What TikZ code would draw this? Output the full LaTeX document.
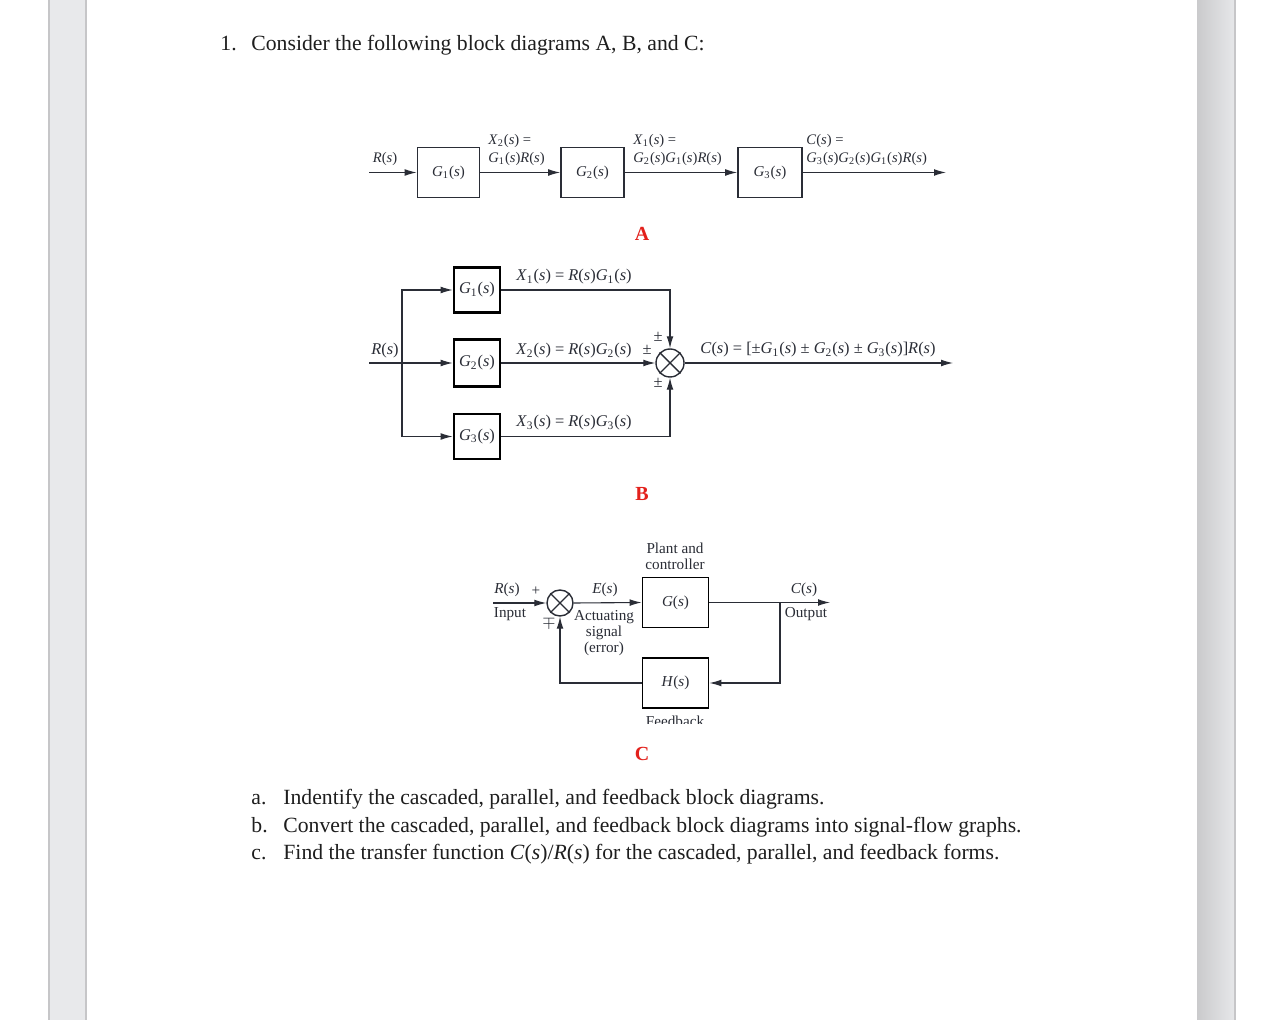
\documentclass[tikz,border=0pt]{standalone}
\usepackage{fontspec}
\setmainfont{Liberation Serif}
\usetikzlibrary{arrows.meta}
\definecolor{txt}{HTML}{1E1E1E}
\definecolor{dtxt}{HTML}{2A2D36}
\definecolor{lbred}{HTML}{E3211C}
\definecolor{sidefill}{HTML}{E8E9EB}
\definecolor{sideline}{HTML}{C6C6C8}
\definecolor{sideL}{HTML}{CACACC}
\definecolor{sideR}{HTML}{E6E7E9}
\newcommand\It[1]{\textit{#1}}
\newcommand\fnG[1]{\It{G}\textsubscript{#1}(\It{s})}
\newcommand\fnX[1]{\It{X}\textsubscript{#1}(\It{s})}
\newcommand\fnR{\It{R}(\It{s})}
\newcommand\fnC{\It{C}(\It{s})}
\begin{document}
\begin{tikzpicture}[x=0.5pt,y=-0.5pt,
  arr/.style={draw=dtxt,line width=0.55pt,-{Latex[length=6pt,width=3.4pt]}},
  ln/.style={draw=dtxt,line width=0.55pt},
  boxA/.style={draw=dtxt,line width=0.8pt,minimum width=31pt,minimum height=25pt,inner sep=0pt,font=\fontsize{7.5}{9}\selectfont,text=dtxt},
  boxB/.style={draw=black,line width=1.3pt,minimum width=23pt,minimum height=22.5pt,inner sep=0pt,font=\fontsize{8.2}{10}\selectfont,text=dtxt},
  boxC/.style={draw=black,line width=0.9pt,minimum width=33pt,minimum height=25pt,inner sep=0pt,font=\fontsize{7.6}{9}\selectfont,text=dtxt},
  sumj/.style={draw=dtxt,line width=0.7pt,circle,inner sep=0pt},
  labA/.style={font=\fontsize{7.3}{9}\selectfont,text=dtxt,inner sep=0pt},
  labB/.style={font=\fontsize{8.2}{10}\selectfont,text=dtxt,inner sep=0pt},
  labC/.style={font=\fontsize{7.6}{9}\selectfont,text=dtxt,inner sep=0pt},
  body/.style={font=\fontsize{10.85}{13}\selectfont,text=txt,inner sep=0pt},
  letter/.style={font=\fontsize{10}{12}\selectfont\bfseries,text=lbred,inner sep=0pt}]
\useasboundingbox (0,0) rectangle (1284,1020);
\fill[white] (0,0) rectangle (1284,1020);
% side bars
\fill[sidefill] (48,0) rectangle (87,1020);
\draw[sideline,line width=1pt] (49,0) -- (49,1020);
\draw[sideline,line width=1pt] (86,0) -- (86,1020);
\shade[left color=sideL,right color=sideR] (1197,0) rectangle (1234,1020);
\draw[sideline,line width=1.2pt] (1235,0) -- (1235,1020);

% heading
\node[body,anchor=base west] (num1) at (220,51) {1.};
\node[body,anchor=base west] (head) at (251,51) {Consider the following block diagrams A, B, and C:};

% ---------- Diagram A ----------
\coordinate (ain) at (369,172.5);
\node[boxA] (a1) at (448.5,172.5) {\fnG{1}};
\node[boxA,minimum width=31.5pt] (a2) at (592.5,172.5) {\fnG{2}};
\node[boxA,minimum width=32pt] (a3) at (770,172.5) {\fnG{3}};
\coordinate (aout) at (946,172.5);
\draw[arr] (ain) -- (a1);
\draw[arr] (a1) -- (a2);
\draw[arr] (a2) -- (a3);
\draw[arr] (a3) -- (aout);
\node[labA] (aR) at (385,159) {\fnR};
\node[labA,anchor=base west] (ax2a) at (488,145) {\fnX{2} =};
\node[labA,anchor=base west] (ax2b) at (488,163) {\fnG{1}\fnR};
\node[labA,anchor=base west] (ax1a) at (633,145) {\fnX{1} =};
\node[labA,anchor=base west] (ax1b) at (633,163) {\fnG{2}\fnG{1}\fnR};
\node[labA,anchor=base west] (aca) at (806,145) {\fnC\ =};
\node[labA,anchor=base west] (acb) at (806,163) {\fnG{3}\fnG{2}\fnG{1}\fnR};
\node[letter] (lA) at (642,234) {A};

% ---------- Diagram B ----------
\coordinate (bin) at (369,363);
\coordinate (bj) at (402,363);
\node[boxB] (b1) at (477,290) {\fnG{1}};
\node[boxB,minimum height=23.5pt] (b2) at (477,363) {\fnG{2}};
\node[boxB] (b3) at (477,436.5) {\fnG{3}};
\node[sumj,minimum size=14pt] (bs) at (670,363) {};
\draw[dtxt,line width=0.7pt] (bs.45) -- (bs.225) (bs.135) -- (bs.315);
\coordinate (bout) at (953,363);
\draw[arr] (bin) -- (b2);
\draw[arr] (bj) |- (b1.west);
\draw[arr] (bj) |- (b3.west);
\draw[arr] (b1.east) -| (bs.north);
\draw[arr] (b2.east) -- (bs.west);
\draw[arr] (b3.east) -| (bs.south);
\draw[arr] (bs.east) -- (bout);
\node[labB] (bR) at (385,351) {\fnR};
\node[labB,anchor=base west] (bx1) at (516,281) {\fnX{1} = \fnR\fnG{1}};
\node[labB,anchor=base west] (bx2) at (516,355) {\fnX{2} = \fnR\fnG{2}};
\node[labB,anchor=base west] (bx3) at (516,427) {\fnX{3} = \fnR\fnG{3}};
\node[labB,anchor=base west] (bc) at (700,354) {\fnC\ = [±\fnG{1} ± \fnG{2} ± \fnG{3}]\fnR};
\node[labB] (pmt) at (658,337) {±};
\node[labB] (pml) at (647,350) {±};
\node[labB] (pmb) at (658,383) {±};
\node[letter] (lB) at (642,494) {B};

% ---------- Diagram C ----------
\coordinate (cin) at (493,603);
\node[sumj,minimum size=13pt] (cs) at (560,603) {};
\draw[dtxt,line width=0.7pt] (cs.45) -- (cs.225) (cs.135) -- (cs.315);
\node[boxC] (cg) at (675.5,602.5) {\It{G}(\It{s})};
\node[boxC] (ch) at (675.5,683) {\It{H}(\It{s})};
\coordinate (cb) at (780,602.5);
\coordinate (cout) at (830,602.5);
\draw[arr] (cin) -- (cs.west);
\draw[arr] (cs.east) -- (cg.west);
\draw[ln] (cg.east) -- (cb);
\draw[arr] (cb) -- (cout);
\draw[arr] (cb) |- (ch.east);
\draw[arr] (ch.west) -| (cs.south);
\node[labC] (cR) at (507,590) {\fnR};
\node[labC] (cplus) at (536,591) {+};
\node[labC] (cinp) at (510,614) {Input};
\node[labC] (cmp) at (549,622) {$\mp$};
\node[labC] (cE) at (605,590) {\It{E}(\It{s})};
\node[labC,align=center] (cact) at (604,633) {Actuating\\[-0.8pt]signal\\[-0.8pt](error)};
\node[labC,align=center] (cplant) at (675,556.5) {Plant and\\[-0.8pt]controller};
\node[labC] (cC) at (804,590) {\fnC};
\node[labC] (cout2) at (806,614) {Output};
\begin{scope}
\clip (600,700) rectangle (760,723.5);
\node[labC] (cfb) at (675,721) {Feedback};
\end{scope}
\node[letter] (lC) at (642,754) {C};

% questions
\node[body,anchor=base west] (qa) at (251,804) {a.};
\node[body,anchor=base west] (qat) at (283,804) {Indentify the cascaded, parallel, and feedback block diagrams.};
\node[body,anchor=base west] (qb) at (251,832) {b.};
\node[body,anchor=base west] (qbt) at (283,832) {Convert the cascaded, parallel, and feedback block diagrams into signal-flow graphs.};
\node[body,anchor=base west] (qc) at (251,859) {c.};
\node[body,anchor=base west] (qct) at (283,859) {Find the transfer function \It{C}(\It{s})/\It{R}(\It{s}) for the cascaded, parallel, and feedback forms.};
\end{tikzpicture}
\end{document}
